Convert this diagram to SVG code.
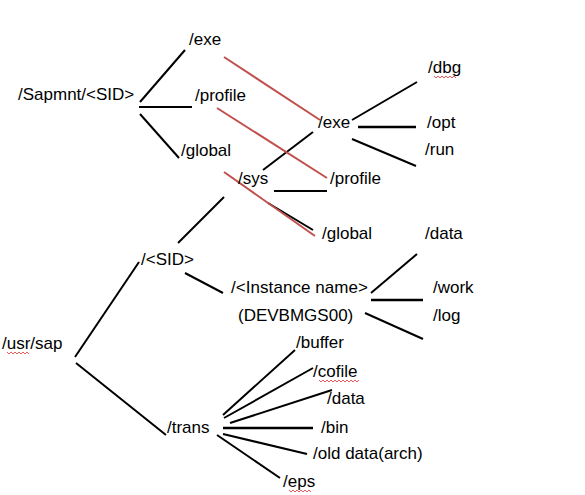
<svg xmlns="http://www.w3.org/2000/svg" width="585" height="495" viewBox="0 0 585 495">
<style>
text{font-family:"Liberation Sans",Arial,sans-serif;font-size:17px;fill:#000}
.c{stroke:#000;stroke-width:2;fill:none;stroke-linecap:butt}
.t{stroke-width:2.6}
.r{stroke:#c0504d;stroke-width:2;fill:none}
.w{stroke:#e03030;stroke-width:0.8;fill:none}
</style>
<rect width="585" height="495" fill="#fff"/>
<g id="connectors">
<line class="c" x1="140" y1="102" x2="185" y2="50"/>
<line class="c" x1="139" y1="107" x2="192" y2="107"/>
<line class="c" x1="140" y1="114" x2="179" y2="158"/>
<line class="c" x1="263" y1="170" x2="313" y2="132"/>
<line class="c" x1="274" y1="191" x2="327" y2="191"/>
<line class="c" x1="268" y1="203" x2="313" y2="230"/>
<line class="c" x1="224" y1="197" x2="178" y2="243"/>
<line class="c" x1="352" y1="120" x2="417" y2="82"/>
<line class="c t" x1="358" y1="127" x2="416" y2="127"/>
<line class="c" x1="352" y1="139" x2="416" y2="166"/>
<line class="c" x1="75" y1="357" x2="139" y2="262"/>
<line class="c" x1="76" y1="363" x2="166" y2="435"/>
<line class="c" x1="185" y1="273" x2="223" y2="293"/>
<line class="c" x1="371" y1="293" x2="417" y2="254"/>
<line class="c t" x1="371" y1="300" x2="423" y2="300"/>
<line class="c" x1="365" y1="313" x2="423" y2="339"/>
<line class="c" x1="223" y1="415" x2="295" y2="350"/>
<line class="c" x1="224" y1="418" x2="313" y2="368"/>
<line class="c" x1="230" y1="423" x2="332" y2="390"/>
<line class="c t" x1="223" y1="428" x2="313" y2="428"/>
<line class="c" x1="223" y1="434" x2="307" y2="454"/>
<line class="c" x1="217" y1="435" x2="280" y2="478"/>
<line class="r" x1="224" y1="57" x2="320" y2="120"/>
<line class="r" x1="217" y1="108" x2="327" y2="178"/>
<line class="r" x1="224" y1="172" x2="315" y2="236"/>
</g>
<g id="n-sapmnt"><text x="18" y="100">/Sapmnt/&lt;SID&gt;</text></g>
<g id="n-exe1"><text x="189" y="45">/exe</text></g>
<g id="n-profile1"><text x="195" y="101">/profile</text></g>
<g id="n-global1"><text x="181" y="156">/global</text></g>
<g id="n-sys"><text x="238" y="184">/sys</text></g>
<g id="n-exe2"><text x="318" y="128">/exe</text></g>
<g id="n-dbg"><text x="428" y="73">/dbg</text><path class="w" d="M434 76 l2 2 l2 -2 l2 2 l2 -2 l2 2 l2 -2 l2 2 l2 -2 l2 2 l2 -2 l2 2"/></g>
<g id="n-opt"><text x="427" y="128">/opt</text></g>
<g id="n-run"><text x="425" y="155">/run</text></g>
<g id="n-profile2"><text x="330" y="184">/profile</text></g>
<g id="n-global2"><text x="322" y="239">/global</text></g>
<g id="n-data1"><text x="425" y="239">/data</text></g>
<g id="n-sid"><text x="141" y="265">/&lt;SID&gt;</text></g>
<g id="n-instance"><text x="231" y="293" textLength="137">/&lt;Instance name&gt;</text><text x="238" y="321">(DEVBMGS00)</text></g>
<g id="n-work"><text x="433" y="293">/work</text></g>
<g id="n-log"><text x="433" y="321">/log</text></g>
<g id="n-usrsap"><text x="2" y="349">/usr/sap</text><path class="w" d="M7 352 l2 2 l2 -2 l2 2 l2 -2 l2 2 l2 -2 l2 2 l2 -2 l2 2 l2 -2 l2 2"/></g>
<g id="n-trans"><text x="167" y="433">/trans</text></g>
<g id="n-buffer"><text x="296" y="348">/buffer</text></g>
<g id="n-cofile"><text x="313" y="377">/cofile</text><path class="w" d="M319 380 l2 2 l2 -2 l2 2 l2 -2 l2 2 l2 -2 l2 2 l2 -2 l2 2 l2 -2 l2 2 l2 -2 l2 2 l2 -2 l2 2 l2 -2 l2 2 l2 -2 l2 2 l2 -2"/></g>
<g id="n-data2"><text x="327" y="404">/data</text></g>
<g id="n-bin"><text x="321" y="433">/bin</text></g>
<g id="n-old"><text x="313" y="459">/old data(arch)</text></g>
<g id="n-eps"><text x="283" y="487">/eps</text><path class="w" d="M289 490 l2 2 l2 -2 l2 2 l2 -2 l2 2 l2 -2 l2 2 l2 -2 l2 2 l2 -2 l2 2"/></g>
</svg>
